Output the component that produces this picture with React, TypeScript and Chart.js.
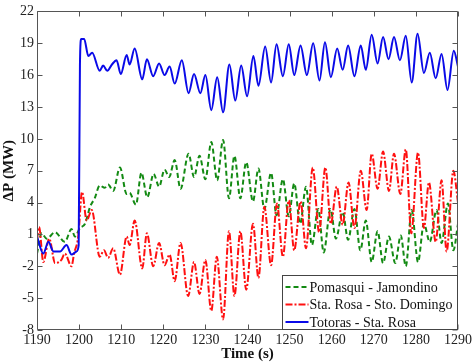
import React, { useEffect, useRef } from "react";
import { Chart, registerables } from "chart.js";
Chart.register(...registerables);

const FONT = "'Liberation Serif', 'Times New Roman', serif";
Chart.defaults.font.family = FONT;

const X_TICKS = [1190, 1200, 1210, 1220, 1230, 1240, 1250, 1260, 1270, 1280, 1290];
const Y_TICKS = [-8, -5, -2, 1, 4, 7, 10, 13, 16, 19, 22];

const SERIES_LABELS = ["Pomasqui - Jamondino", "Sta. Rosa - Sto. Domingo", "Totoras - Sta. Rosa"];

const GREEN_T = [1190.0, 1191.1, 1192.3, 1194.3, 1196.6, 1198.2, 1199.0, 1200.2, 1201.4, 1202.6, 1203.7, 1204.9, 1206.1, 1206.9, 1208.1, 1209.7, 1211.3, 1212.0, 1213.5, 1214.8, 1216.2, 1217.7, 1219.0, 1220.3, 1221.4, 1222.7, 1224.1, 1226.0, 1227.3, 1228.6, 1230.0, 1231.4, 1232.8, 1234.2, 1235.6, 1236.9, 1238.3, 1239.7, 1241.3, 1242.6, 1244.0, 1245.6, 1246.9, 1248.4, 1249.8, 1251.1, 1252.5, 1253.9, 1255.3, 1256.8, 1258.1, 1259.7, 1261.0, 1262.6, 1263.9, 1265.4, 1266.8, 1268.1, 1269.5, 1270.9, 1272.2, 1273.6, 1275.1, 1276.4, 1277.6, 1279.0, 1280.5, 1281.9, 1283.3, 1284.9, 1286.1, 1287.6, 1288.9, 1290.0];
const GREEN_V = [-0.8, 1.1, 0.6, 1.2, 0.3, 1.5, 0.8, 1.6, 2.0, 3.6, 4.4, 5.6, 5.4, 5.7, 5.1, 7.3, 4.8, 4.9, 3.8, 6.8, 4.5, 6.7, 5.5, 7.1, 6.4, 8.0, 5.3, 8.6, 6.4, 8.4, 6.2, 9.7, 6.1, 9.9, 4.4, 8.4, 4.4, 7.8, 4.1, 7.2, 3.4, 6.8, 2.8, 6.2, 2.7, 5.8, 2.0, 5.5, 0.0, 3.4, -0.7, 3.4, 0.6, 3.1, 0.5, 3.4, -0.5, 2.3, -1.6, 1.3, -1.7, 0.8, -1.7, 0.9, -2.0, 3.3, -1.6, 2.0, 0.3, 3.3, 0.2, 3.9, -0.5, 2.0];

const RED_T = [1190.0, 1190.5, 1191.5, 1192.9, 1194.3, 1195.8, 1196.6, 1198.2, 1198.8, 1199.8, 1200.7, 1201.8, 1203.0, 1204.9, 1205.9, 1206.9, 1208.1, 1209.7, 1211.3, 1212.0, 1213.2, 1215.0, 1216.1, 1217.6, 1219.0, 1220.3, 1221.5, 1222.7, 1224.1, 1225.9, 1227.3, 1228.6, 1230.0, 1231.4, 1232.7, 1234.2, 1235.6, 1236.9, 1238.3, 1239.7, 1241.3, 1242.6, 1244.0, 1245.6, 1247.0, 1248.4, 1249.8, 1251.1, 1252.6, 1253.9, 1255.5, 1257.0, 1258.5, 1259.8, 1261.2, 1262.6, 1264.0, 1265.4, 1266.9, 1268.3, 1269.5, 1270.9, 1272.2, 1273.6, 1274.8, 1276.3, 1277.6, 1278.9, 1280.5, 1281.9, 1283.1, 1284.7, 1286.1, 1287.3, 1288.9, 1290.0];
const RED_V = [0.5, 1.7, -1.6, 0.6, -1.7, -1.4, -0.8, -2.0, -0.8, 0.8, 5.0, 2.3, 3.3, -1.1, -0.5, -1.2, -0.3, -2.8, 0.8, 0.0, 2.3, -2.2, 1.1, -2.0, 0.2, -1.9, -0.9, -3.4, 0.2, -4.8, -1.6, -4.6, -1.4, -6.2, -1.1, -7.0, 1.3, -4.8, 1.3, -4.2, 2.0, -3.1, 3.6, -1.9, 3.9, -1.1, 4.2, -0.5, 4.1, -0.3, 7.3, 1.2, 7.3, 2.0, 5.5, 1.9, 5.9, 1.6, 7.0, 3.3, 8.6, 5.3, 8.8, 5.1, 8.6, 4.8, 9.0, 1.1, 8.7, 1.6, 5.9, 0.3, 6.1, -0.6, 7.0, 4.0];

const BLUE_T = [1190.0, 1191.5, 1192.7, 1193.9, 1195.5, 1197.0, 1198.2, 1199.4, 1199.9, 1200.2, 1200.5, 1201.2, 1202.2, 1203.1, 1204.9, 1205.7, 1206.7, 1207.8, 1208.9, 1209.9, 1211.3, 1212.0, 1213.2, 1215.0, 1216.1, 1217.6, 1219.0, 1220.3, 1221.5, 1222.7, 1224.4, 1226.0, 1227.3, 1228.8, 1230.0, 1231.4, 1232.8, 1234.2, 1235.7, 1237.1, 1238.5, 1239.9, 1241.4, 1242.6, 1244.2, 1245.6, 1246.9, 1248.4, 1249.8, 1251.1, 1252.6, 1254.1, 1255.6, 1257.1, 1258.4, 1259.8, 1261.3, 1262.6, 1263.9, 1265.4, 1266.9, 1268.1, 1269.5, 1270.9, 1272.2, 1273.5, 1274.8, 1276.2, 1277.6, 1279.0, 1280.4, 1281.9, 1283.3, 1284.7, 1286.1, 1287.5, 1289.0, 1290.0];
const BLUE_V = [0.8, -0.8, 0.3, -0.6, -0.6, 0.0, -0.9, -0.6, 0.0, 17.0, 19.4, 19.4, 17.8, 18.1, 16.4, 16.9, 16.4, 17.0, 17.4, 16.1, 17.9, 17.0, 18.5, 15.6, 17.5, 15.9, 17.1, 16.0, 16.8, 15.2, 17.4, 14.3, 16.1, 14.3, 16.0, 12.7, 15.8, 12.5, 17.0, 13.6, 16.9, 14.0, 17.8, 15.0, 18.7, 15.3, 18.9, 15.9, 18.9, 16.0, 18.8, 16.0, 19.0, 15.5, 19.1, 15.8, 18.5, 16.5, 18.8, 15.9, 18.8, 16.5, 19.8, 17.1, 19.6, 17.5, 19.6, 17.4, 19.7, 15.3, 19.9, 16.2, 18.1, 15.7, 18.0, 14.6, 18.3, 16.8];

const toPoints = (ts: number[], vs: number[]) => ts.map((t, i) => ({ x: t, y: vs[i] }));

const framePlugin = {
  id: "matlabFrame",
  afterDraw(chart: any) {
    const { ctx, chartArea: a, scales } = chart;
    ctx.save();
    ctx.strokeStyle = "#555";
    ctx.lineWidth = 1;
    const L = Math.round(a.left) + 0.5, R = Math.round(a.right) - 0.5;
    const T = Math.round(a.top) + 0.5, B = Math.round(a.bottom) - 0.5;
    ctx.beginPath();
    ctx.rect(L, T, R - L, B - T);
    ctx.stroke();
    const tl = 5;
    ctx.beginPath();
    scales.x.ticks.forEach((t: any) => {
      const px = Math.round(scales.x.getPixelForValue(t.value)) + 0.5;
      ctx.moveTo(px, B); ctx.lineTo(px, B - tl);
      ctx.moveTo(px, T); ctx.lineTo(px, T + tl);
    });
    scales.y.ticks.forEach((t: any) => {
      const py = Math.round(scales.y.getPixelForValue(t.value)) + 0.5;
      ctx.moveTo(L, py); ctx.lineTo(L + tl, py);
      ctx.moveTo(R, py); ctx.lineTo(R - tl, py);
    });
    ctx.stroke();

    // legend box, bottom-right inside the plot
    const ds = chart.data.datasets;
    const boxW = 176, rowH = 17.5, boxH = 55;
    const bx = Math.round(a.right - boxW) + 0.5;
    const by = Math.round(a.bottom - boxH) + 0.5;
    ctx.fillStyle = "#fff";
    ctx.fillRect(bx, by, boxW, boxH);
    ctx.strokeStyle = "#444";
    ctx.strokeRect(bx, by, R - bx, B - by);
    ctx.font = `14px ${FONT}`;
    ctx.textBaseline = "middle";
    ctx.textAlign = "left";
    ds.forEach((d: any, i: number) => {
      const y = by + 11.5 + i * rowH;
      ctx.save();
      ctx.strokeStyle = d.borderColor;
      ctx.lineWidth = d.borderWidth;
      ctx.setLineDash(d.borderDash || []);
      ctx.beginPath();
      ctx.moveTo(bx + 3, y);
      ctx.lineTo(bx + 26, y);
      ctx.stroke();
      ctx.restore();
      ctx.fillStyle = "#111";
      ctx.fillText(d.label, bx + 27, y + 1);
    });
    ctx.restore();
  },
};

export default function App() {
  const ref = useRef<HTMLCanvasElement | null>(null);
  useEffect(() => {
    if (!ref.current) return;
    const chart = new Chart(ref.current, {
      type: "line",
      data: {
        datasets: [
          {
            label: SERIES_LABELS[0],
            data: toPoints(GREEN_T, GREEN_V),
            borderColor: "#138a13",
            borderWidth: 2,
            borderDash: [5, 3],
            pointRadius: 0,
            cubicInterpolationMode: "monotone",
            order: 3,
          },
          {
            label: SERIES_LABELS[1],
            data: toPoints(RED_T, RED_V),
            borderColor: "#ff1010",
            borderWidth: 2,
            borderDash: [7, 2, 2, 2],
            pointRadius: 0,
            cubicInterpolationMode: "monotone",
            order: 2,
          },
          {
            label: SERIES_LABELS[2],
            data: toPoints(BLUE_T, BLUE_V),
            borderColor: "#0a0ae8",
            borderWidth: 2,
            pointRadius: 0,
            cubicInterpolationMode: "monotone",
            order: 1,
          },
        ],
      },
      options: {
        responsive: false,
        animation: false,
        devicePixelRatio: 1,
        layout: { padding: { top: 8, right: 15, left: 0, bottom: 0 } },
        plugins: { legend: { display: false }, tooltip: { enabled: false } },
        scales: {
          x: {
            type: "linear",
            min: 1190,
            max: 1290,
            afterBuildTicks: (s: any) => { s.ticks = X_TICKS.map((v) => ({ value: v })); },
            afterFit: (s: any) => { s.height = 33; },
            ticks: { font: { family: FONT, size: 14 }, color: "#222", padding: 2, maxRotation: 0, autoSkip: false, callback: (v: any) => String(v) },
            grid: { display: false, drawTicks: false },
            border: { display: false },
            title: { display: true, text: "Time (s)", font: { family: FONT, size: 15, weight: "bold" }, color: "#111", padding: 0 },
          },
          y: {
            min: -8,
            max: 22,
            afterBuildTicks: (s: any) => { s.ticks = Y_TICKS.map((v) => ({ value: v })); },
            afterFit: (s: any) => { s.width = 37; },
            ticks: { font: { family: FONT, size: 14 }, color: "#222", padding: 3, autoSkip: false, callback: (v: any) => String(v) },
            grid: { display: false, drawTicks: false },
            border: { display: false },
            title: { display: true, text: "ΔP (MW)", font: { family: FONT, size: 15, weight: "bold" }, color: "#111", padding: 0 },
          },
        },
      },
      plugins: [framePlugin],
    } as any);
    return () => chart.destroy();
  }, []);
  return (
    <div style={{ position: "fixed", left: 0, top: 0, width: 474, height: 363, background: "#fff" }}>
      <canvas ref={ref} width={474} height={363} style={{ display: "block", width: 474, height: 363 }} />
    </div>
  );
}
